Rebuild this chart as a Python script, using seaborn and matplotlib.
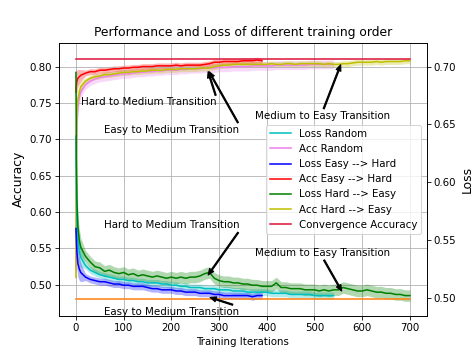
import numpy as np
import seaborn as sns
import matplotlib.pyplot as plt

# iterations (dense at the start, then every 10)
iters_long = [0, 1, 2, 4, 7, 10] + list(range(20, 710, 10))
iters_random = [0, 1, 2, 4, 7, 10] + list(range(20, 550, 10))
iters_easy = [0, 1, 2, 4, 7, 10] + list(range(20, 400, 10))

loss_random = [0.640, 0.590, 0.565, 0.550, 0.540, 0.535,
               0.528, 0.524, 0.522, 0.520, 0.519, 0.518, 0.517, 0.516, 0.516, 0.515,
               0.515, 0.514, 0.514, 0.513, 0.513, 0.513, 0.512, 0.512, 0.511, 0.511,
               0.510, 0.510, 0.509, 0.509, 0.509, 0.508, 0.508, 0.508, 0.507, 0.507,
               0.507, 0.506, 0.506, 0.506, 0.505, 0.505, 0.505, 0.505, 0.505, 0.504,
               0.504, 0.504, 0.504, 0.503, 0.503, 0.503, 0.503, 0.503, 0.502, 0.502,
               0.502, 0.502, 0.502]
acc_random = [0.520, 0.680, 0.720, 0.745, 0.758, 0.765,
              0.775, 0.780, 0.783, 0.785, 0.786, 0.787, 0.788, 0.789, 0.790, 0.790,
              0.791, 0.792, 0.792, 0.793, 0.793, 0.794, 0.794, 0.795, 0.795, 0.795,
              0.796, 0.796, 0.797, 0.797, 0.797, 0.798, 0.798, 0.798, 0.799, 0.799,
              0.799, 0.800, 0.800, 0.800, 0.800, 0.801, 0.801, 0.801, 0.801, 0.801,
              0.802, 0.802, 0.802, 0.802, 0.802, 0.802, 0.802, 0.803, 0.803, 0.803,
              0.803, 0.803, 0.803]
loss_easy_hard = [0.560, 0.550, 0.540, 0.530, 0.525, 0.522,
                  0.518, 0.516, 0.515, 0.514, 0.514, 0.513, 0.512, 0.512, 0.511, 0.511,
                  0.510, 0.510, 0.510, 0.509, 0.508, 0.508, 0.507, 0.507, 0.507, 0.506,
                  0.506, 0.505, 0.505, 0.505, 0.504, 0.504, 0.504, 0.503, 0.503, 0.502,
                  0.502, 0.502, 0.502, 0.502, 0.502, 0.501, 0.502, 0.502]
acc_easy_hard = [0.765, 0.775, 0.780, 0.784, 0.786, 0.788,
                 0.791, 0.793, 0.793, 0.795, 0.795, 0.796, 0.797, 0.797, 0.798, 0.798,
                 0.799, 0.799, 0.800, 0.800, 0.800, 0.801, 0.801, 0.801, 0.801, 0.802,
                 0.801, 0.802, 0.802, 0.802, 0.802, 0.803, 0.804, 0.806, 0.806, 0.807,
                 0.807, 0.807, 0.807, 0.808, 0.808, 0.808, 0.809, 0.808]
loss_hard_easy = [0.695, 0.620, 0.585, 0.562, 0.550, 0.544,
                  0.536, 0.531, 0.527, 0.526, 0.523, 0.524, 0.522, 0.521, 0.522, 0.520,
                  0.521, 0.519, 0.520, 0.519, 0.518, 0.519, 0.518, 0.517, 0.518, 0.517,
                  0.518, 0.517, 0.518, 0.518, 0.519, 0.521, 0.522, 0.517, 0.515, 0.514,
                  0.514, 0.513, 0.513, 0.512, 0.512, 0.511, 0.511, 0.510, 0.510, 0.510,
                  0.513, 0.509, 0.509, 0.508, 0.508, 0.508, 0.507, 0.507, 0.507, 0.506,
                  0.507, 0.506, 0.507, 0.507, 0.509, 0.508, 0.507, 0.506, 0.506, 0.507,
                  0.506, 0.505, 0.505, 0.504, 0.504, 0.503, 0.503, 0.502, 0.502]
acc_hard_easy = [0.510, 0.700, 0.740, 0.755, 0.765, 0.772,
                 0.780, 0.784, 0.786, 0.787, 0.789, 0.789, 0.790, 0.791, 0.792, 0.792,
                 0.793, 0.793, 0.794, 0.794, 0.795, 0.795, 0.795, 0.796, 0.796, 0.796,
                 0.797, 0.797, 0.797, 0.797, 0.798, 0.798, 0.798, 0.800, 0.801, 0.802,
                 0.802, 0.803, 0.803, 0.803, 0.803, 0.803, 0.803, 0.803, 0.803, 0.804,
                 0.803, 0.803, 0.804, 0.804, 0.803, 0.804, 0.804, 0.804, 0.804, 0.804,
                 0.803, 0.804, 0.803, 0.803, 0.804, 0.804, 0.805, 0.806, 0.806, 0.806,
                 0.806, 0.807, 0.806, 0.807, 0.807, 0.807, 0.807, 0.808, 0.808]

# spread of the shaded bands (first points are wider)
band_early = {"loss": [0.02, 0.02, 0.015, 0.012, 0.01, 0.008],
              "acc": [0.03, 0.02, 0.015, 0.012, 0.01, 0.008]}

conv_x = [0, 700]
conv_acc = [0.8106, 0.8106]
conv_loss = [0.4988, 0.4988]


def draw(axis, x, y, color, spread, early, label):
    sns.lineplot(x=x, y=y, color=color, ax=axis, label=label, linewidth=1.5)
    y = np.array(y)
    band = np.full(len(y), spread)
    band[:len(early)] = early
    axis.fill_between(x, y - band, y + band, color=color, alpha=0.3, linewidth=0)


fig, ax = plt.subplots(figsize=(474 / 74, 355 / 74), dpi=74)
ax2 = ax.twinx()

draw(ax, iters_random, acc_random, "violet", 0.006, band_early["acc"], "Acc Random")
draw(ax, iters_easy, acc_easy_hard, "r", 0.004, band_early["acc"], "Acc Easy --> Hard")
draw(ax, iters_long, acc_hard_easy, "y", 0.004, band_early["acc"], "Acc Hard --> Easy")
sns.lineplot(x=conv_x, y=conv_acc, color="crimson", ax=ax, label="Convergence Accuracy")

draw(ax2, iters_random, loss_random, "c", 0.003, band_early["loss"], "Loss Random")
draw(ax2, iters_easy, loss_easy_hard, "b", 0.003, band_early["loss"], "Loss Easy --> Hard")
draw(ax2, iters_long, loss_hard_easy, "g", 0.005, band_early["loss"], "Loss Hard --> Easy")
sns.lineplot(x=conv_x, y=conv_loss, color="tab:orange", ax=ax2)

for a in (ax, ax2):
    if a.get_legend() is not None:
        a.get_legend().remove()

ax.set_xlim(-35, 735)
ax.set_ylim(0.457, 0.833)
ax2.set_ylim(0.4844, 0.7208)
ax.set_yticks([0.50, 0.55, 0.60, 0.65, 0.70, 0.75, 0.80])
ax2.set_yticks([0.50, 0.55, 0.60, 0.65, 0.70])
ax.grid(True)

ax.set_xlabel("Training Iterations")
ax.set_ylabel("Accuracy", fontsize=12)
ax2.set_ylabel("Loss", fontsize=12)
ax.set_title("Performance and Loss of different training order")

h1, l1 = ax.get_legend_handles_labels()
h2, l2 = ax2.get_legend_handles_labels()
lookup = dict(zip(l1 + l2, h1 + h2))
order = ["Loss Random", "Acc Random", "Loss Easy --> Hard", "Acc Easy --> Hard",
         "Loss Hard --> Easy", "Acc Hard --> Easy", "Convergence Accuracy"]
ax2.legend([lookup[k] for k in order], order, loc="center right")

arrow = dict(facecolor="black", width=1.2, headwidth=5, headlength=6, shrink=0.0)
notes = [
    ("Hard to Medium Transition", (277, 0.6957), (9.9, 0.6691)),
    ("Easy to Medium Transition", (279, 0.6957), (58.8, 0.6454)),
    ("Medium to Easy Transition", (555, 0.7017), (376, 0.6575)),
    ("Hard to Medium Transition", (277, 0.5198), (58.8, 0.5627)),
    ("Medium to Easy Transition", (557, 0.5059), (376, 0.5388)),
    ("Easy to Medium Transition", (281, 0.5004), (58.8, 0.4880)),
]
for text, xy, xytext in notes:
    ax2.annotate(text, xy=xy, xytext=xytext, va="center", arrowprops=arrow)

fig.savefig("out.png", dpi=74)
